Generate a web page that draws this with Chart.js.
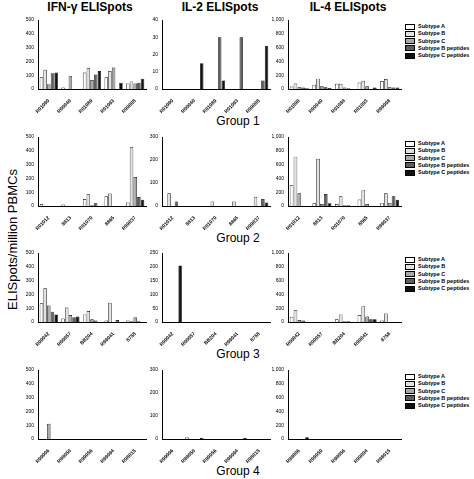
<!DOCTYPE html>
<html><head><meta charset="utf-8">
<script src="https://cdn.jsdelivr.net/npm/chart.js@4"></script>
<style>
body{margin:0;width:474px;height:479px;background:#fff;font-family:Arial,"Liberation Sans",sans-serif;position:relative;overflow:hidden}
.t{position:absolute;font-weight:bold;font-size:12px;text-align:center;width:140px}
.g{position:absolute;font-size:12px;width:100px;text-align:center;left:188px}
.lg{position:absolute;left:405px;font-size:5.5px;font-weight:bold;line-height:7.3px}
.lg span{display:inline-block;width:8px;height:4px;border:1px solid #000;margin-right:3px;vertical-align:middle}
#yl{position:absolute;left:-68px;top:232px;width:160px;transform:rotate(-90deg);font-size:13px;text-align:center}
</style></head><body>
<div class="t" style="left:20px;top:0">IFN-γ ELISpots</div>
<div class="t" style="left:150px;top:0">IL-2 ELISpots</div>
<div class="t" style="left:278px;top:0">IL-4 ELISpots</div>
<div id="yl">ELISpots/million PBMCs</div>
<script>
const series = ["Subtype A","Subtype B","Subtype C","Subtype B peptides","Subtype C peptides"];
const colors = ["#ffffff","#e2e2e2","#a9a9a9","#5e5e5e","#111111"];
const groupLabels = [
  ["R01090","R00040","R01089","R01093","R99008"],
  ["R01012","8813","R01070","8865","R99037"],
  ["R00042","R00057","BB204","R99041","8758"],
  ["R99006","R99050","R99056","R99094","R98015"]
];
// per subject: [A, B, C, B peptides, C peptides]
const ifnG1 = [[85,140,35,115,120],[10,0,95,0,0],[120,150,65,105,130],[85,130,155,0,45],[40,55,40,45,75]];
const il2G1 = [[0,0,0,0,0],[0,0,0,0,15],[0,0,0,30,5],[0,0,0,30,0],[0,0,0,5,25]];
const il4G1 = [[35,80,25,20,10],[60,150,40,25,15],[75,75,20,10,0],[95,120,40,5,20],[115,145,25,20,20]];
const ifnG2 = [[15,0,0,0,0],[10,0,0,0,0],[50,85,5,20,0],[70,90,0,0,0],[25,425,210,65,45]];
const il2G2 = [[0,55,0,20,0],[0,0,0,0,0],[0,20,0,0,0],[0,20,0,0,0],[0,40,0,30,15]];
const il4G2 = [[300,715,185,0,0],[40,685,30,175,40],[30,140,10,10,0],[95,230,30,0,0],[45,185,45,140,90]];
const ifnG3 = [[135,245,120,75,55],[25,105,50,35,40],[55,80,20,10,0],[10,140,0,15,0],[10,5,35,5,0]];
const il2G3 = [[0,0,0,0,205],[0,0,0,0,0],[0,0,0,0,0],[0,0,0,0,0],[0,0,0,0,0]];
const il4G3 = [[75,170,30,20,5],[0,0,0,0,0],[40,110,10,10,5],[100,230,80,40,40],[20,125,5,0,0]];
const ifnG4 = [[0,0,110,0,0],[0,0,0,0,0],[0,0,0,0,0],[0,0,0,0,0],[0,0,0,0,0]];
const il2G4 = [[0,0,0,0,0],[8,0,0,0,5],[0,0,0,0,0],[0,0,0,0,5],[0,0,0,0,0]];
const il4G4 = [[0,0,0,0,25],[0,0,0,0,0],[0,0,0,0,0],[0,0,0,0,0],[0,0,0,0,0]];
const values = [[ifnG1,il2G1,il4G1],[ifnG2,il2G2,il4G2],[ifnG3,il2G3,il4G3],[ifnG4,il2G4,il4G4]];
const yMax = [[500,40,1000],[500,300,1000],[500,250,1000],[500,300,1000]];
const ySteps = [[100,10,200],[100,100,200],[100,50,200],[100,100,200]];
const zeroY = [89,206,322,439];
const topY = [20,137,253,370];
const colLeft = [10,134,260];
const colW = [140,140,145];

for (let r = 0; r < 4; r++) {
  const g = document.createElement("div");
  g.className = "g"; g.style.top = (zeroY[r] + 25) + "px"; g.textContent = "Group " + (r + 1);
  document.body.appendChild(g);
  const lg = document.createElement("div");
  lg.className = "lg"; lg.style.top = (topY[r] + 3) + "px";
  lg.innerHTML = series.map((s, i) => `<div><span style="background:${colors[i]}"></span>${s}</div>`).join("");
  document.body.appendChild(lg);
  for (let c = 0; c < 3; c++) {
    const top = topY[r] - 5;
    const h = zeroY[r] + 24 - top;
    const cv = document.createElement("canvas");
    cv.width = colW[c]; cv.height = h;
    cv.style.cssText = `position:absolute;left:${colLeft[c]}px;top:${top}px;width:${colW[c]}px;height:${h}px`;
    document.body.appendChild(cv);
    const v = values[r][c];
    new Chart(cv, {
      type: "bar",
      data: {
        labels: groupLabels[r],
        datasets: series.map((s, i) => ({
          label: s, data: v.map(x => x[i]), backgroundColor: colors[i],
          borderColor: "#000", borderWidth: 0.7, categoryPercentage: 0.85, barPercentage: 0.95
        }))
      },
      options: {
        animation: false, responsive: false,
        layout: { padding: { top: 5, right: 4, left: 0, bottom: 0 } },
        plugins: { legend: { display: false }, tooltip: { enabled: false } },
        scales: {
          x: {
            grid: { display: false }, border: { color: "#000" },
            ticks: { font: { size: 5, weight: "bold" }, color: "#000", maxRotation: 45, minRotation: 45, padding: 1 },
            afterFit: a => { a.height = 24; }
          },
          y: {
            min: 0, max: yMax[r][c],
            ticks: { stepSize: ySteps[r][c], font: { size: 5 }, color: "#000", padding: 1 },
            grid: { display: false, tickLength: 3 }, border: { color: "#000" },
            afterFit: a => { a.width = 28; }
          }
        }
      }
    });
  }
}
</script>
</body></html>
